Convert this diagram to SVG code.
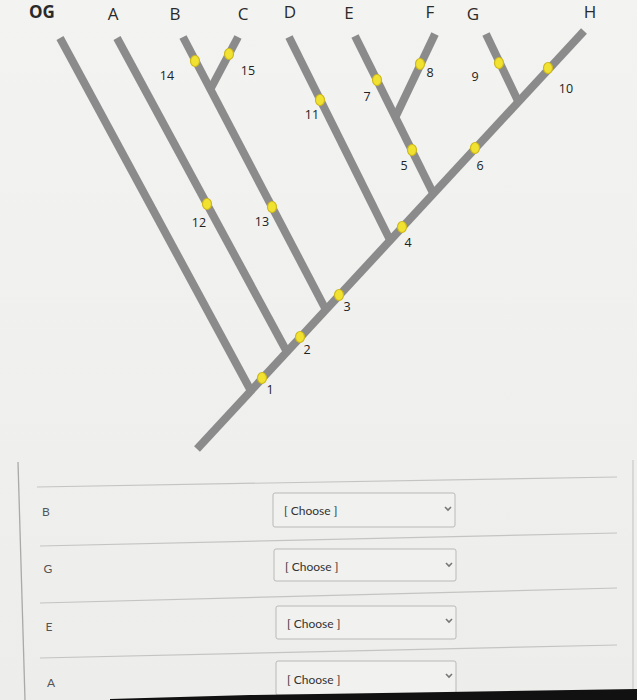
<svg xmlns="http://www.w3.org/2000/svg" width="637" height="700" viewBox="0 0 637 700">
<style>
.br{stroke:#8b8b8b;stroke-width:8;fill:none;stroke-linecap:butt}
.dot{fill:#f1e232;stroke:#cdb81c;stroke-width:1.2}
.tl{font-family:"Open Sans","Liberation Sans",sans-serif;font-size:17px;fill:#2a2a2a;text-anchor:middle}
.nl{font-family:"Open Sans","Liberation Sans",sans-serif;font-size:12.5px;fill:#222;text-anchor:middle}
.rl{font-family:"Lato","Liberation Sans",sans-serif;font-size:12px;fill:#555;text-anchor:middle}
.ch{font-family:"Lato","Liberation Sans",sans-serif;font-size:12px;fill:#333}
.box{fill:#f1f1ef;stroke:#b9b9b7;stroke-width:1}
.sep{stroke:#c4c4c2;stroke-width:1.2}
.chev{fill:none;stroke:#777;stroke-width:1.6}
</style>
<defs>
<linearGradient id="bg" x1="0" y1="0" x2="0" y2="1">
<stop offset="0" stop-color="#f3f3f1"/>
<stop offset="1" stop-color="#ededeb"/>
</linearGradient>
</defs>
<rect width="637" height="700" fill="url(#bg)"/>

<g id="connectors">
<line class="br" x1="197" y1="449" x2="584" y2="31"/>
<line class="br" x1="60" y1="38" x2="251" y2="391"/>
<line class="br" x1="117" y1="38" x2="287" y2="352"/>
<line class="br" x1="183" y1="37" x2="326" y2="310"/>
<line class="br" x1="238" y1="37" x2="210" y2="90"/>
<line class="br" x1="289" y1="37" x2="390" y2="240"/>
<line class="br" x1="355" y1="36" x2="433" y2="193"/>
<line class="br" x1="435" y1="34" x2="395" y2="118"/>
<line class="br" x1="486" y1="34" x2="518" y2="101"/>
</g>

<g id="markers">
<ellipse class="dot" cx="262" cy="378" rx="4.5" ry="5.5"/>
<ellipse class="dot" cx="300" cy="337" rx="4.5" ry="5.5"/>
<ellipse class="dot" cx="339" cy="295" rx="4.5" ry="5.5"/>
<ellipse class="dot" cx="402" cy="227" rx="4.5" ry="5.5"/>
<ellipse class="dot" cx="412" cy="150" rx="4.5" ry="5.5"/>
<ellipse class="dot" cx="475" cy="148" rx="4.5" ry="5.5"/>
<ellipse class="dot" cx="377" cy="80" rx="4.5" ry="5.5"/>
<ellipse class="dot" cx="420" cy="64" rx="4.5" ry="5.5"/>
<ellipse class="dot" cx="499" cy="63" rx="4.5" ry="5.5"/>
<ellipse class="dot" cx="548" cy="68" rx="4.5" ry="5.5"/>
<ellipse class="dot" cx="320" cy="100" rx="4.5" ry="5.5"/>
<ellipse class="dot" cx="207" cy="204" rx="4.5" ry="5.5"/>
<ellipse class="dot" cx="272" cy="207" rx="4.5" ry="5.5"/>
<ellipse class="dot" cx="195" cy="61" rx="4.5" ry="5.5"/>
<ellipse class="dot" cx="229" cy="54" rx="4.5" ry="5.5"/>
</g>

<g id="taxa">
<text class="tl" x="42" y="18" font-weight="bold" font-size="15">OG</text>
<text class="tl" x="113" y="20">A</text>
<text class="tl" x="175" y="20">B</text>
<text class="tl" x="243" y="20">C</text>
<text class="tl" x="290" y="18">D</text>
<text class="tl" x="349" y="19">E</text>
<text class="tl" x="430" y="18">F</text>
<text class="tl" x="473" y="20">G</text>
<text class="tl" x="590" y="18">H</text>
</g>

<g id="numbers">
<text class="nl" x="270" y="394">1</text>
<text class="nl" x="307" y="354">2</text>
<text class="nl" x="347" y="311">3</text>
<text class="nl" x="408" y="247">4</text>
<text class="nl" x="404" y="170">5</text>
<text class="nl" x="480" y="170">6</text>
<text class="nl" x="367" y="101">7</text>
<text class="nl" x="430" y="77">8</text>
<text class="nl" x="475" y="81">9</text>
<text class="nl" x="566" y="93">10</text>
<text class="nl" x="312" y="119">11</text>
<text class="nl" x="199" y="227">12</text>
<text class="nl" x="262" y="226">13</text>
<text class="nl" x="167" y="80">14</text>
<text class="nl" x="248" y="75">15</text>
</g>

<g id="form">
<line x1="18" y1="462" x2="25" y2="700" stroke="#a9a9a7" stroke-width="1.3"/>
<line x1="633" y1="460" x2="633" y2="690" stroke="#c9c9c7" stroke-width="1.2"/>
<line class="sep" x1="37" y1="487" x2="617" y2="477"/>
<line class="sep" x1="40" y1="546" x2="617" y2="533"/>
<line class="sep" x1="40" y1="603" x2="617" y2="588"/>
<line class="sep" x1="40" y1="658" x2="617" y2="645"/>

<g id="row-b">
<text class="rl" x="46" y="516">B</text>
<rect class="box" x="273" y="493" width="182" height="34" rx="2"/>
<text class="ch" x="284" y="515">[ Choose ]</text>
<polyline class="chev" points="445,507 448,510 451,507"/>
</g>
<g id="row-g">
<text class="rl" x="48" y="573">G</text>
<rect class="box" x="274" y="549" width="182" height="32" rx="2"/>
<text class="ch" x="285" y="571">[ Choose ]</text>
<polyline class="chev" points="446,563 449,566 452,563"/>
</g>
<g id="row-e">
<text class="rl" x="49" y="631">E</text>
<rect class="box" x="276" y="606" width="180" height="33" rx="2"/>
<text class="ch" x="287" y="628">[ Choose ]</text>
<polyline class="chev" points="446,619 449,622 452,619"/>
</g>
<g id="row-a">
<text class="rl" x="51" y="687">A</text>
<rect class="box" x="276" y="661" width="180" height="34" rx="2"/>
<text class="ch" x="287" y="684">[ Choose ]</text>
<polyline class="chev" points="446,674 449,677 452,674"/>
</g>
</g>
<polygon points="110,700 110,699 250,695 637,689 637,700" fill="#111"/>
</svg>
